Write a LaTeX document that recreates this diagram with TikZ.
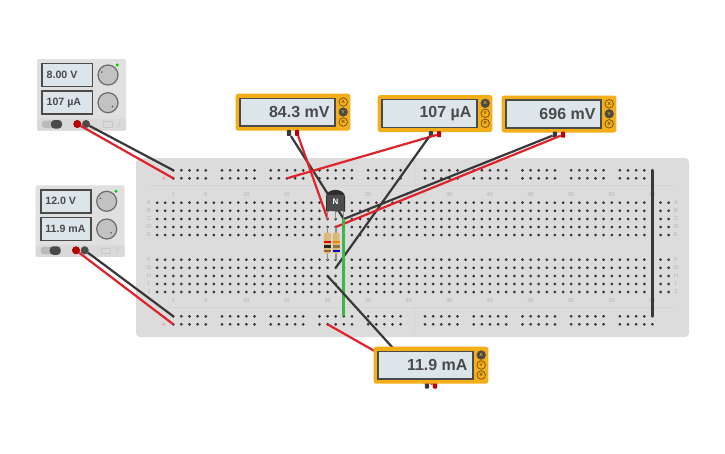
\documentclass[tikz,border=0pt]{standalone}
\usepackage{fontspec}
\setmainfont{Liberation Sans}
\definecolor{board}{HTML}{DCDCDC}
\definecolor{hole}{HTML}{333333}
\definecolor{wblack}{HTML}{383838}
\definecolor{wred}{HTML}{E2222A}
\definecolor{wgreen}{HTML}{3DB54A}
\definecolor{mcase}{HTML}{F4AE1A}
\definecolor{lcd}{HTML}{DBE5EA}
\definecolor{ink}{HTML}{4A4A4A}
\definecolor{faint}{HTML}{B0B0B0}
\definecolor{tan}{HTML}{DDB877}
\tikzset{
  wireblack/.style={draw=wblack,line width=2.2pt},
  wirered/.style={draw=wred,line width=2.2pt},
  wiregreen/.style={draw=wgreen,line width=2.8pt},
  boardlabel/.style={text=faint,font=\fontsize{5.5}{6}\selectfont,inner sep=0pt},
  metercase/.style={fill=mcase,rounded corners=2.5pt,draw=none},
  lcdbox/.style={fill=lcd,draw=ink,line width=1.6pt},
  metertext/.style={text=ink,font=\fontsize{16}{16}\selectfont\bfseries,anchor=east,inner sep=0pt},
  psutext/.style={text=ink,font=\fontsize{10.6}{11}\selectfont\bfseries,anchor=west,inner sep=0pt},
  knob/.style={circle,fill=black!24,draw=black!58,line width=1.2pt,minimum size=20pt,inner sep=0pt},
  modeon/.style={circle,fill=ink,draw=ink,line width=0.7pt,minimum size=8.5pt,inner sep=0pt,text=mcase,font=\fontsize{4.5}{5}\selectfont\bfseries},
  modeoff/.style={circle,fill=mcase,draw=black!55!mcase,line width=0.7pt,minimum size=8.5pt,inner sep=0pt,text=black!55!mcase,font=\fontsize{4.5}{5}\selectfont\bfseries},
  termred/.style={circle,fill=red!75!black,draw=red!60!black,line width=0.4pt,minimum size=7.5pt,inner sep=0pt},
  termblack/.style={circle,fill=ink,draw=black!70,line width=0.4pt,minimum size=7.5pt,inner sep=0pt},
  probeblack/.style={rectangle,rounded corners=0.8pt,fill=wblack,minimum width=4.2pt,minimum height=6pt,inner sep=0pt},
  probered/.style={rectangle,rounded corners=0.8pt,fill=red!75!black,minimum width=4.2pt,minimum height=6pt,inner sep=0pt},
}
% name, left x, top y, text, state of A, V, R
\newcommand{\drawmeter}[7]{%
  \fill[metercase] (#2,#3) rectangle ++(114.6,37);
  \draw[lcdbox] (#2+4.5,#3+4.6) rectangle ++(95,27.8);
  \node[metertext] (#1text) at (#2+94,#3+18.7) {#4};
  \node[#5] (#1A) at (#2+107.5,#3+8.3) {A};
  \node[#6] (#1V) at (#2+107.5,#3+18.3) {V};
  \node[#7] (#1R) at (#2+107.5,#3+28.3) {R};
  \node[probeblack] (#1neg) at (#2+53.2,#3+39.2) {};
  \node[probered] (#1pos) at (#2+61.4,#3+39.2) {};
}
% name, x shift, y shift, volt text, current text
\newcommand{\drawsupply}[5]{%
  \begin{scope}[shift={(#2,#3)}]
  \fill[black!12,rounded corners=1.5pt] (37,59) rectangle (126,130.5);
  \fill[black!15,rounded corners=1.5pt] (37,118.5) rectangle (126,130.5);
  \draw[lcdbox] (42,63.5) rectangle (92.5,86.5);
  \draw[lcdbox] (42,91) rectangle (92.5,114);
  \node[psutext] (#1v) at (46.5,75) {#4};
  \node[psutext] (#1i) at (46.5,102.5) {#5};
  \node[knob] (#1ka) at (108,75) {};
  \node[knob] (#1kb) at (108,102.7) {};
  \fill[ink] (101.8,72) circle (0.8pt);
  \fill[ink] (112.5,106.5) circle (0.8pt);
  \fill[green!80!black] (117.3,65) circle (1.6pt);
  \fill[black!27,rounded corners=3pt] (42,120.5) rectangle (62,128);
  \fill[ink,rounded corners=3.5pt] (51,120) rectangle (62,128.5);
  \draw[black!22,line width=0.5pt] (103,121.5) rectangle (112,127);
  \draw[black!22,line width=0.7pt] (118,127.5) -- (120,121);
  \node[termred] (#1pos) at (77.3,124) {};
  \node[termblack] (#1neg) at (86,124) {};
  \end{scope}
}
\begin{document}
\begin{tikzpicture}[x=1pt,y=-1pt]
\useasboundingbox (0,0) rectangle (725,453);
\fill[white] (0,0) rectangle (725,453);
% breadboard
\fill[board,rounded corners=4pt] (136,158) rectangle (689,337);
\draw[black!17,line width=0.5pt] (150,185) -- (675,185);
\draw[black!17,line width=0.5pt] (150,307) -- (675,307);
\draw[black!17,line width=0.5pt] (414,307) -- (414,335);
\draw[black!17,line width=0.5pt] (414,160) -- (414,185);
% main holes
\foreach \y in {202.7,210.8,219,227,235,259.7,267.8,276,284,292}
  \foreach \c in {-1,...,62}
    \fill[hole] ({173.3+(\c-1)*8.12},\y) circle (1.5pt);
% rail holes
\foreach \y in {170.3,178.3,316.3,324.3}
  \foreach \s in {1,7,13,19,25,32,38,44,50,56}
    \foreach \d in {0,...,4}
      \fill[hole] ({173.3+(\s+\d-1)*8.12},\y) circle (1.5pt);
% ruler numbers
\foreach \c in {1,5,10,15,20,25,30,35,40,45,50,55,60} {
  \node[boardlabel] at ({173.3+(\c-1)*8.12},195) {\c};
  \node[boardlabel] at ({173.3+(\c-1)*8.12},301) {\c};
}
\foreach \l/\y in {A/202.7,B/210.8,C/219,D/227,E/235,F/259.7,G/267.8,H/276,I/284,J/292} {
  \node[boardlabel] at (149,\y) {\l};
  \node[boardlabel] at (676,\y) {\l};
}
\node[text=red!35!board,font=\fontsize{8}{8}\selectfont,inner sep=0pt] (plusa) at (164,179) {+};
\node[text=red!35!board,font=\fontsize{8}{8}\selectfont,inner sep=0pt] (plusb) at (164,325) {+};
% wire ends in the breadboard
\coordinate (railTneg) at (173.3,170.3);
\coordinate (railTpos) at (173.3,178.3);
\coordinate (railBneg) at (173.3,316.3);
\coordinate (railBpos) at (173.3,324.3);
\coordinate (railT15) at (287,178.3);
\coordinate (railT60) at (652.4,170.3);
\coordinate (railB60) at (652.4,316.3);
\coordinate (railB20) at (327.6,324.3);
\coordinate (railB22) at (343.8,316.3);
\coordinate (c20C) at (327.6,219);
\coordinate (c22C) at (343.8,219);
\coordinate (c21D) at (335.7,227);
\coordinate (c21G) at (335.7,267.8);
\coordinate (c20H) at (327.6,276);
% resistors
\foreach \x/\ba/\bb/\bc in {327.4/red!85!black/black!85/brown!80!black,336/orange/black!35!tan/blue!80!black} {
  \draw[black!45,line width=1.4pt] (\x,227) -- (\x,260);
  \fill[tan,rounded corners=2pt] ({\x-3.5},232.5) rectangle ({\x+3.5},253.5);
  \fill[\ba] ({\x-3.5},240.7) rectangle ({\x+3.5},243.1);
  \fill[\bb] ({\x-3.5},245.4) rectangle ({\x+3.5},247.8);
  \fill[\bc] ({\x-3.5},249.6) rectangle ({\x+3.5},252);
}
% supplies
\drawsupply{psa}{0}{0}{8.00 V}{107 µA}
\drawsupply{psb}{-1.3}{126.3}{12.0 V}{11.9 mA}
% meters
\drawmeter{ma}{235.7}{93.7}{84.3 mV}{modeoff}{modeon}{modeoff}
\drawmeter{mb}{377.7}{95}{107 µA}{modeon}{modeoff}{modeoff}
\drawmeter{mc}{501.7}{95.5}{696 mV}{modeoff}{modeon}{modeoff}
% wires
\draw[wireblack] (psaneg) -- (railTneg);
\draw[wirered] (psapos) -- (railTpos);
\draw[wireblack] (psbneg) -- (railBneg);
\draw[wirered] (psbpos) -- (railBpos);
\draw[wireblack] (railT60) -- (railB60);
\draw[wireblack] (maneg) -- (c22C);
\draw[wirered] (mapos) -- (c20C);
\draw[wirered] (mbpos) -- (railT15);
\draw[wireblack] (mbneg) -- (c21G);
\draw[wireblack] (mcneg) -- (c22C);
\draw[wirered] (mcpos) -- (c21D);
\draw[wiregreen] (c22C) -- (railB22);
% transistor
\draw[black!45,line width=1.3pt] (327.6,208) -- (c20C);
\draw[black!45,line width=1.3pt] (335.7,208) -- (335.7,219);
\draw[black!45,line width=1.3pt] (343.8,208) -- (c22C);
\fill[black!82] (326,197) .. controls (326,187.5) and (345,187.5) .. (345,197) -- (345,211) -- (326,211) -- cycle;
\fill[black!70] (327,195) rectangle (344,211);
\node[text=white,font=\fontsize{8}{8}\selectfont\bfseries,inner sep=0pt] (npn) at (335.5,201.5) {N};
% bottom meter and its wires
\node[probeblack] (mdneg) at (427,385.5) {};
\node[probered] (mdpos) at (435,385.5) {};
\draw[wireblack] (c20H) -- (mdneg);
\draw[wirered] (railB20) -- (mdpos);
\fill[metercase] (373.7,346.7) rectangle ++(114.6,37);
\draw[lcdbox] (378.2,351.3) rectangle ++(95,27.8);
\node[metertext] (mdtext) at (467.7,365.4) {11.9 mA};
\node[modeon] (mdA) at (481.2,355) {A};
\node[modeoff] (mdV) at (481.2,365) {V};
\node[modeoff] (mdR) at (481.2,375) {R};
\end{tikzpicture}
\end{document}
